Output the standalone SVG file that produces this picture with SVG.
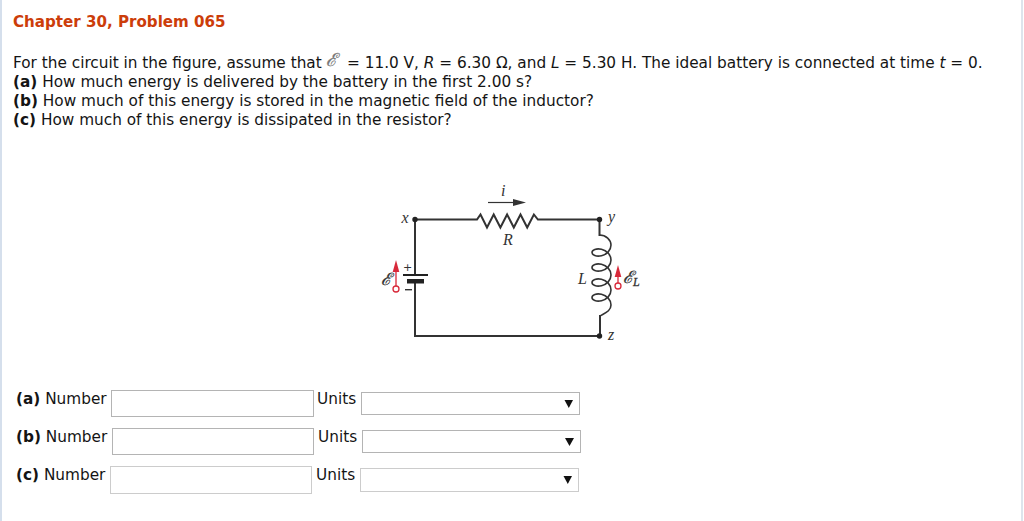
<svg xmlns="http://www.w3.org/2000/svg" width="1024" height="521" viewBox="0 0 1024 521">
<style>
text{font-family:"DejaVu Sans","Liberation Sans",sans-serif;font-size:15.3px;fill:#141414}
.b{font-weight:bold}
.t{font-weight:bold;fill:#cc3d0a;font-size:15.1px}
.m{font-family:"Liberation Serif",serif;font-style:italic;font-size:16px;fill:#333}
.s{font-family:"DejaVu Serif","Liberation Serif",serif;font-style:italic;font-size:17px;fill:#333;stroke:#333;stroke-width:.3}
.w{fill:none;stroke:#333;stroke-width:2}
.r{fill:none;stroke:#d8293a;stroke-width:1.3}
.box{fill:#fff;stroke:#b4b4b4;stroke-width:1}
.tri{fill:#111}
</style>
<rect width="1024" height="521" fill="#fff"/>
<rect x="0" y="0" width="2" height="521" fill="#d5dfec"/>
<rect x="1021" y="0" width="2" height="521" fill="#dde4ec"/>
<g id="text">
<text class="t" x="13" y="26.500">Chapter 30, Problem 065</text>
<text x="13" y="67.500">For the circuit in the figure, assume that</text>
<text x="326" y="66" style="font-family:'DejaVu Serif',serif;font-style:italic;font-size:18px;fill:#777;stroke:#777;stroke-width:.3">ℰ</text>
<text x="347" y="67.500">= 11.0 V, <tspan font-style="italic">R</tspan> = 6.30 Ω, and <tspan font-style="italic">L</tspan> = 5.30 H. The ideal battery is connected at time <tspan font-style="italic">t</tspan> = 0.</text>
<text x="13" y="86.500"><tspan class="b">(a)</tspan> How much energy is delivered by the battery in the first 2.00 s?</text>
<text x="13" y="105.500"><tspan class="b">(b)</tspan> How much of this energy is stored in the magnetic field of the inductor?</text>
<text x="13" y="124.500"><tspan class="b">(c)</tspan> How much of this energy is dissipated in the resistor?</text>
</g>
<g id="connectors">
<path class="w" d="M415 274V219.500H477l3.500-5 6.500 13 6.700-13 6.700 13 6.700-13 6.700 13 6.700-13 6.700 13 6.700-13 4 5H599.500V236"/>
<path class="w" d="M600 315V336H415V283"/>
<path d="M488 202.500H516" stroke="#333" stroke-width="1.2" fill="none"/>
<path d="M526 202.500L513 199V206Z" fill="#333"/>
</g>
<g id="battery">
<rect x="403" y="274" width="25" height="2" fill="#222"/>
<rect x="407" y="279" width="17" height="4.500" fill="#222"/>
<text x="403" y="271" style="font-size:11px;fill:#333">+</text>
<rect x="405" y="289" width="7" height="1.400" fill="#333"/>
<path class="r" d="M396 286V268"/>
<path d="M396 260L392.700 272H399.300Z" fill="#d8293a"/>
<circle class="r" cx="396" cy="289" r="3" fill="#fff"/>
<text class="s" x="381" y="285">ℰ</text>
</g>
<g id="inductor">
<path class="w" style="stroke-width:1.6" d="M599.500 235C606 235 611 240 611 245c0 5.200 -4.300 9.450 -9.500 10.750c-5.200 1.300 -9.500 -.75 -9.500 -3.250c0 -2.500 4.300 -4.550 9.500 -3.250c5.200 1.300 9.500 5.550 9.500 10.750c0 5.200 -4.300 9.450 -9.500 10.750c-5.200 1.300 -9.500 -.75 -9.500 -3.250c0 -2.500 4.300 -4.550 9.500 -3.250c5.200 1.300 9.500 5.550 9.500 10.750c0 5.200 -4.300 9.450 -9.500 10.750c-5.200 1.300 -9.500 -.75 -9.500 -3.250c0 -2.500 4.300 -4.550 9.500 -3.250c5.200 1.300 9.500 5.550 9.500 10.750c0 5.200 -4.300 9.450 -9.500 10.750c-5.200 1.300 -9.500 -.75 -9.500 -3.250c0 -2.500 4.300 -4.550 9.500 -3.250c5.200 1.300 9.500 5.550 9.500 10.750C611 311 605 313 600 316"/>
<path class="r" d="M618 283V275"/>
<path d="M618 265L614.700 277H621.300Z" fill="#d8293a"/>
<circle class="r" cx="618" cy="286" r="3" fill="#fff"/>
<text class="m" x="578" y="284">L</text>
<text class="s" x="623" y="283">ℰ<tspan dy="3" font-size="12" font-family="Liberation Serif">L</tspan></text>
</g>
<g id="resistor-labels">
<text class="m" x="501" y="196">i</text>
<text class="m" x="503" y="245">R</text>
</g>
<g id="nodes">
<circle cx="415" cy="219.500" r="2.700" fill="#222"/>
<circle cx="599.500" cy="219.500" r="2.700" fill="#222"/>
<circle cx="599.500" cy="336" r="2.700" fill="#222"/>
<text class="m" x="401.500" y="223">x</text>
<text class="m" x="608" y="222">y</text>
<text class="m" x="608" y="340">z</text>
</g>
<g id="row-a">
<text x="16" y="403.500"><tspan class="b">(a)</tspan> Number</text>
<rect class="box" x="111.500" y="390.500" width="202" height="26"/>
<text x="317" y="403.500">Units</text>
<rect class="box" x="361.500" y="392.500" width="218" height="22"/>
<path class="tri" d="M564.500 400H573L568.800 408Z"/>
</g>
<g id="row-b">
<text x="16" y="441.500"><tspan class="b">(b)</tspan> Number</text>
<rect class="box" x="112.500" y="428.500" width="201" height="26"/>
<text x="318" y="441.500">Units</text>
<rect class="box" x="362.500" y="430.500" width="218" height="22"/>
<path class="tri" d="M565 438H574L569.500 446Z"/>
</g>
<g id="row-c">
<text x="16" y="479.500"><tspan class="b">(c)</tspan> Number</text>
<rect class="box" x="110.500" y="466.500" width="201" height="27" style="stroke:#ccc"/>
<text x="316" y="479.500">Units</text>
<rect class="box" x="360.500" y="468.500" width="218" height="23" style="stroke:#ccc"/>
<path class="tri" d="M563.500 476H572L567.800 484Z"/>
</g>
</svg>
